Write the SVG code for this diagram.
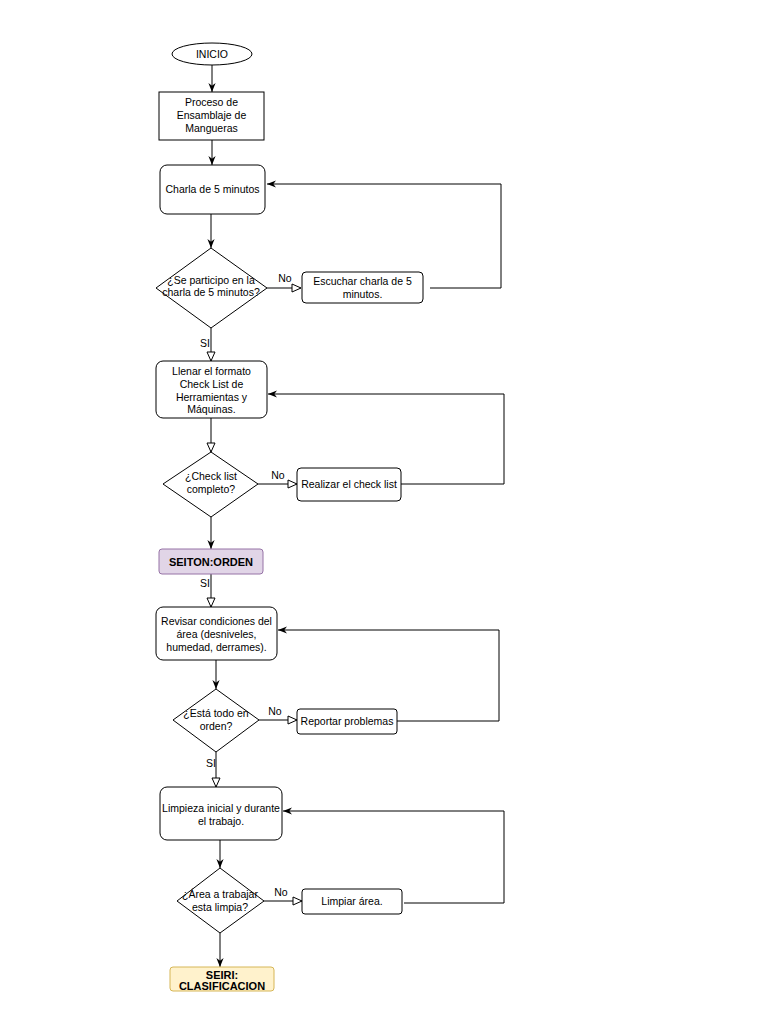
<svg xmlns="http://www.w3.org/2000/svg" width="768" height="1024" viewBox="0 0 768 1024">
<defs>
<marker id="arr" viewBox="0 0 10 10" refX="10" refY="5" markerWidth="9" markerHeight="9" markerUnits="userSpaceOnUse" orient="auto"><path d="M0,1 L10,5 L0,9 L3,5 z" fill="#000"/></marker>
<marker id="tri" viewBox="0 0 10 10" refX="10" refY="5" markerWidth="10" markerHeight="10" markerUnits="userSpaceOnUse" orient="auto"><path d="M1,1 L10,5 L1,9 z" fill="#fff" stroke="#000" stroke-width="1"/></marker>
<style>
.n{fill:#fff;stroke:#000;stroke-width:1}
.t{font-family:"Liberation Sans",Arial,sans-serif;font-size:10.5px;fill:#000;text-anchor:middle}
.b{font-family:"Liberation Sans",Arial,sans-serif;font-size:11px;font-weight:bold;fill:#000;text-anchor:middle}
.c{fill:none;stroke:#000;stroke-width:1}
.a{marker-end:url(#arr)}
.o{marker-end:url(#tri)}
</style>
</defs>
<rect width="768" height="1024" fill="#fff"/>
<g id="connectors">
<line class="c a" x1="212" y1="65" x2="212" y2="92"/>
<line class="c a" x1="212" y1="140" x2="212" y2="165"/>
<line class="c a" x1="211" y1="214" x2="211" y2="248"/>
<line class="c o" x1="267" y1="288" x2="301" y2="288"/>
<polyline class="c a" points="430,288 501,288 501,184 267,184"/>
<line class="c o" x1="211" y1="328" x2="211" y2="361"/>
<line class="c o" x1="211" y1="418" x2="211" y2="452"/>
<line class="c o" x1="258" y1="484" x2="297" y2="484"/>
<polyline class="c a" points="401,484 504,484 504,394 268,394"/>
<line class="c a" x1="211" y1="517" x2="211" y2="549"/>
<line class="c o" x1="211" y1="574" x2="211" y2="607"/>
<polyline class="c a" points="397,721 499,721 499,630 278,630"/>
<line class="c a" x1="216" y1="660" x2="216" y2="689"/>
<line class="c o" x1="259" y1="720" x2="297" y2="720"/>
<line class="c o" x1="216" y1="752" x2="216" y2="787"/>
<line class="c a" x1="220" y1="840" x2="220" y2="868"/>
<polyline class="c a" points="404,903 504,903 504,811 283,811"/>
<line class="c o" x1="264" y1="901" x2="302" y2="901"/>
<line class="c a" x1="220" y1="933" x2="220" y2="967"/>
<text class="t" x="285" y="282">No</text>
<text class="t" x="205" y="347">SI</text>
<text class="t" x="278" y="479">No</text>
<text class="t" x="205" y="587">SI</text>
<text class="t" x="275" y="715">No</text>
<text class="t" x="211" y="767">SI</text>
<text class="t" x="281" y="896">No</text>
</g>
<g id="inicio"><ellipse class="n" cx="212" cy="54" rx="40" ry="11"/><text class="t" x="212" y="58">INICIO</text></g>
<g id="proceso"><rect class="n" x="159" y="92" width="105" height="48"/><text class="t" x="211.5" y="106">Proceso de</text><text class="t" x="211.5" y="119">Ensamblaje de</text><text class="t" x="211.5" y="132">Mangueras</text></g>
<g id="charla"><rect class="n" x="160" y="165" width="105" height="49" rx="7"/><text class="t" x="212.5" y="193">Charla de 5 minutos</text></g>
<g id="dec1"><polygon class="n" points="211,248 267,288 211,328 156,288"/><text class="t" x="211" y="284">¿Se participo en la</text><text class="t" x="211" y="296">charla de 5 minutos?</text></g>
<g id="escuchar"><rect class="n" x="302" y="272" width="121" height="31" rx="4"/><text class="t" x="362.5" y="285">Escuchar charla de 5</text><text class="t" x="362.5" y="298">minutos.</text></g>
<g id="llenar"><rect class="n" x="156" y="361" width="111" height="57" rx="7"/><text class="t" x="211.5" y="375">Llenar el formato</text><text class="t" x="211.5" y="388">Check List de</text><text class="t" x="211.5" y="401">Herramientas y</text><text class="t" x="211.5" y="413">Máquinas.</text></g>
<g id="dec2"><polygon class="n" points="211,452 258,484 211,517 163,484"/><text class="t" x="211" y="480">¿Check list</text><text class="t" x="211" y="493">completo?</text></g>
<g id="realizar"><rect class="n" x="297" y="468" width="104" height="33" rx="4"/><text class="t" x="349" y="488">Realizar el check list</text></g>
<g id="seiton"><rect x="159" y="549" width="104" height="25" rx="3" fill="#e1d5e7" stroke="#9673a6"/><text class="b" x="211" y="566">SEITON:ORDEN</text></g>
<g id="revisar"><rect class="n" x="156" y="607" width="121" height="53" rx="7"/><text class="t" x="216.5" y="625">Revisar condiciones del</text><text class="t" x="216.5" y="638">área (desniveles,</text><text class="t" x="216.5" y="651">humedad, derrames).</text></g>
<g id="dec3"><polygon class="n" points="216,689 259,720 216,752 173,720"/><text class="t" x="216" y="717">¿Está todo en</text><text class="t" x="216" y="730">orden?</text></g>
<g id="reportar"><rect class="n" x="297" y="709" width="100" height="25" rx="3"/><text class="t" x="347" y="725">Reportar problemas</text></g>
<g id="limpieza"><rect class="n" x="160" y="787" width="122" height="53" rx="7"/><text class="t" x="221" y="812">Limpieza inicial y durante</text><text class="t" x="221" y="825">el trabajo.</text></g>
<g id="dec4"><polygon class="n" points="220,868 264,901 220,933 177,901"/><text class="t" x="220" y="898">¿Área a trabajar</text><text class="t" x="220" y="911">esta limpia?</text></g>
<g id="limpiar"><rect class="n" x="302" y="889" width="100" height="25" rx="3"/><text class="t" x="352" y="905">Limpiar área.</text></g>
<g id="seiri"><rect x="170" y="967" width="104" height="24" rx="3" fill="#fff2cc" stroke="#d6b656"/><text class="b" x="222" y="979">SEIRI:</text><text class="b" x="222" y="990">CLASIFICACION</text></g>
</svg>
